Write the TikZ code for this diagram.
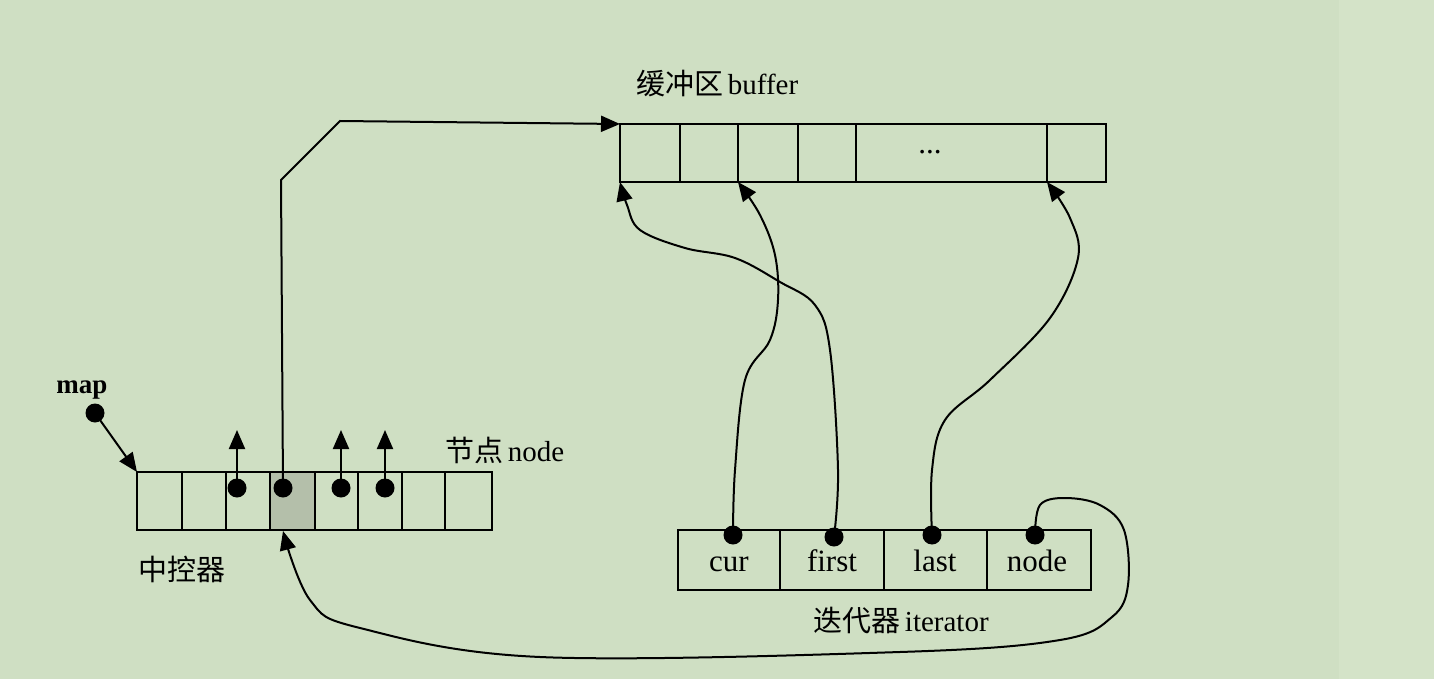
\documentclass[tikz,border=0pt]{standalone}
\usepackage{fontspec}
\setmainfont{Liberation Serif}
\newfontfamily\cjk{Noto Sans CJK SC}
\usetikzlibrary{arrows.meta}
\definecolor{bg}{HTML}{CFDFC3}
\definecolor{bgr}{HTML}{D4E3C8}
\definecolor{cellgray}{HTML}{B4BFAA}
\begin{document}
\begin{tikzpicture}[x=1pt,y=-1pt,
  line width=2.2pt,
  cell/.style={draw=black,line width=2.4pt},
  dot/.style={circle,fill=black,inner sep=0pt,minimum size=19pt},
  arr/.style={-{Triangle[length=19pt,width=16pt]},line width=2pt},
  lbl/.style={font=\fontsize{31}{34}\selectfont,inner sep=0pt},
  cj/.style={font=\cjk\fontsize{29}{32}\selectfont,inner sep=0pt}]
\fill[bg] (0,0) rectangle (1339,679);
\fill[bgr] (1339,0) rectangle (1434,679);
\useasboundingbox (0,0) rectangle (1434,679);
% buffer
\draw[cell] (620,124) rectangle (1106,182);
\foreach \x in {680,738,798,856,1047} \draw[cell] (\x,124) -- (\x,182);
\node[lbl] (dots) at (930,152) {...};
\coordinate (bufA) at (620,182);
\coordinate (bufB) at (738,182);
\coordinate (bufC) at (1047,182);
\coordinate (bufTL) at (620,124);
\node[cj,anchor=base west] (buflbl) at (635,95) {缓冲区\,{\fontspec{Liberation Serif}buffer}};
% map (node array)
\fill[cellgray] (270,472) rectangle (315,530);
\draw[cell] (137,472) rectangle (492,530);
\foreach \x in {182,226,270,315,358,402,445} \draw[cell] (\x,472) -- (\x,530);
\node[dot] (d1) at (237,488) {};
\node[dot] (d2) at (283,488) {};
\node[dot] (d3) at (341,488) {};
\node[dot] (d4) at (385,488) {};
\coordinate (u1) at (237,430);
\coordinate (u3) at (341,430);
\coordinate (u4) at (385,430);
\draw[arr] (d1.center) -- (u1);
\draw[arr] (d3.center) -- (u3);
\draw[arr] (d4.center) -- (u4);
\coordinate (bend1) at (281,180);
\coordinate (bend2) at (340,121);
\draw[arr] (d2.center) -- (bend1) -- (bend2) -- (bufTL);
\node[font=\bfseries\fontsize{27}{30}\selectfont,inner sep=0pt] (maplbl) at (82,390) {map};
\node[dot] (mapdot) at (95,413) {};
\coordinate (mapcorner) at (137,472);
\draw[arr] (mapdot.center) -- (mapcorner);
\node[cj,anchor=base west] (nodelbl) at (444,461) {节点\,{\fontspec{Liberation Serif}node}};
\node[cj,anchor=base west] (ctrl) at (137,580) {中控器};
\coordinate (ctrlB) at (283,531);
% iterator
\draw[cell] (678,530) rectangle (1091,590);
\foreach \x in {780,884,987} \draw[cell] (\x,530) -- (\x,590);
\node[lbl,anchor=base] (cur) at (729,571) {cur};
\node[lbl,anchor=base] (first) at (832,571) {first};
\node[lbl,anchor=base] (last) at (935,571) {last};
\node[lbl,anchor=base] (nd) at (1037,571) {node};
\node[dot] (cd) at (733,535) {};
\node[dot] (fd) at (834,537) {};
\node[dot] (ld) at (932,535) {};
\node[dot] (nd2) at (1035,535) {};
\node[cj,anchor=base west] (itlbl) at (812,631) {迭代器\,{\fontspec{Liberation Serif}iterator}};
% curves
\draw[arr] plot[smooth,tension=0.6] coordinates {(cd.center) (735,470) (745,380) (770,340) (778,300) (775,255) (760,215) (bufB)};
\draw[arr] plot[smooth,tension=0.6] coordinates {(fd.center) (838,470) (830,350) (815,305) (780,282) (735,258) (685,248) (640,230) (627,205) (bufA)};
\draw[arr] plot[smooth,tension=0.6] coordinates {(ld.center) (932,470) (945,420) (990,380) (1050,318) (1078,258) (1070,218) (bufC)};
\draw[arr] plot[smooth,tension=0.6] coordinates {(nd2.center) (1040,505) (1065,498) (1100,505) (1124,530) (1128,585) (1112,617) (1060,640) (900,652) (540,657) (360,628) (310,600) (ctrlB)};
\end{tikzpicture}
\end{document}
